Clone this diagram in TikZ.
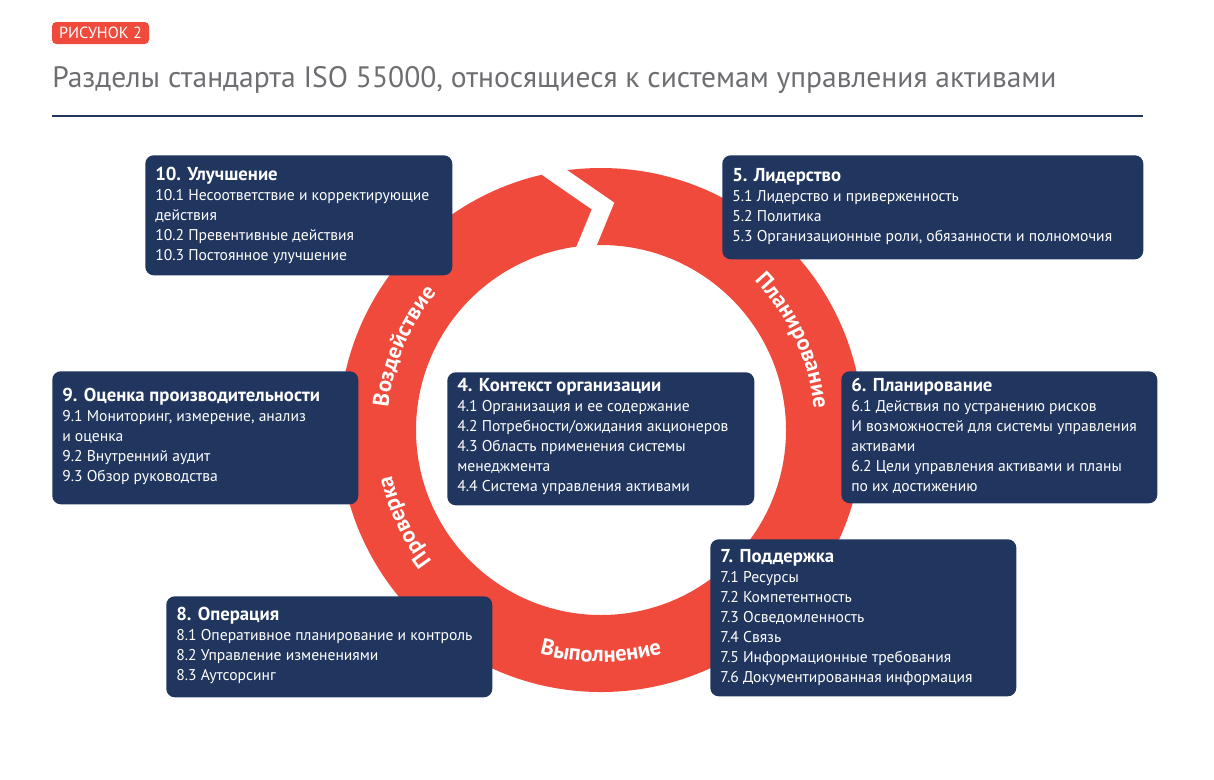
\documentclass[tikz,border=0pt]{standalone}
\usepackage{fontspec}
\setmainfont{PT Sans}
\usetikzlibrary{positioning,decorations.text}
\definecolor{navy}{HTML}{21365F}
\definecolor{ringred}{HTML}{EF4A3C}
\definecolor{titlegray}{HTML}{6D6E71}
\tikzset{
  box/.style={fill=navy, rounded corners=6pt, anchor=north west, inner sep=0pt},
  boxtext/.style={anchor=north west, text=white, align=left, inner sep=0pt,
    font=\fontsize{11.1}{14.2}\selectfont},
  ringlabel/.style={decorate, decoration={text along path, text align=center,
    text color=white, text={|\ringfont|#1}}},
}
\newcommand{\ringfont}{\fontsize{16}{18}\selectfont\bfseries}
\newcommand{\boxhead}[1]{{\fontsize{13.3}{16}\selectfont\bfseries #1}\\[0pt]}
\begin{document}
\begin{tikzpicture}[x=0.025cm, y=-0.025cm]
  \useasboundingbox (0,0) rectangle (1214,779);
  % header
  \node[fill=ringred, rounded corners=3pt, text=white, minimum width=97*0.025cm,
    minimum height=22*0.025cm, inner sep=0pt, font=\fontsize{11.5}{13}\selectfont]
    (badge) at (100.5,33) {РИСУНОК 2};
  \node[anchor=west, text=titlegray, inner sep=0pt, font=\fontsize{21}{24}\selectfont]
    (title) at (52,80) {Разделы стандарта ISO 55000, относящиеся к системам управления активами};
  \coordinate (ruleL) at (52,116);
  \coordinate (ruleR) at (1143,116);
  \draw[navy, line width=2pt] (ruleL) -- (ruleR);
  % ring
  \coordinate (ctr) at (601,430);
  \fill[ringred, even odd rule] (ctr) circle (262) (ctr) circle (185);
  \draw[white, line width=13pt] (522,150) -- (603,206) -- (580,262);
  \begin{scope}[shift={(ctr)}, y=0.025cm]
    \path[ringlabel=Планирование] (52:214) arc[start angle=52, end angle=-2, radius=214];
    \path[ringlabel=Выполнение] (-115:232) arc[start angle=-115, end angle=-65, radius=232];
    \path[ringlabel=Проверка] (-134:214) arc[start angle=-134, end angle=-176, radius=214];
    \path[ringlabel=Воздействие] (-178:214) arc[start angle=-178, end angle=-228, radius=214];
  \end{scope}
  % boxes
  \node[box, minimum width=307*0.025cm, minimum height=120*0.025cm] (b10) at (145,155) {};
  \node[boxtext] (t10) at (155,167) {\boxhead{10. Улучшение}10.1 Несоответствие и корректирующие\\действия\\10.2 Превентивные действия\\10.3 Постоянное улучшение};
  \node[box, minimum width=421*0.025cm, minimum height=104*0.025cm] (b5) at (722,155) {};
  \node[boxtext] (t5) at (732,168) {\boxhead{5. Лидерство}5.1 Лидерство и приверженность\\5.2 Политика\\5.3 Организационные роли, обязанности и полномочия};
  \node[box, minimum width=306*0.025cm, minimum height=133*0.025cm] (b9) at (52,371) {};
  \node[boxtext] (t9) at (62,388) {\boxhead{9. Оценка производительности}9.1 Мониторинг, измерение, анализ\\и оценка\\9.2 Внутренний аудит\\9.3 Обзор руководства};
  \node[box, minimum width=307*0.025cm, minimum height=133*0.025cm] (b4) at (447,372) {};
  \node[boxtext] (t4) at (457,378) {\boxhead{4. Контекст организации}4.1 Организация и ее содержание\\4.2 Потребности/ожидания акционеров\\4.3 Область применения системы\\менеджмента\\4.4 Система управления активами};
  \node[box, minimum width=316*0.025cm, minimum height=132*0.025cm] (b6) at (841,371) {};
  \node[boxtext] (t6) at (851,378) {\boxhead{6. Планирование}6.1 Действия по устранению рисков\\И возможностей для системы управления\\активами\\6.2 Цели управления активами и планы\\по их достижению};
  \node[box, minimum width=306*0.025cm, minimum height=157*0.025cm] (b7) at (710,539) {};
  \node[boxtext] (t7) at (720,549) {\boxhead{7. Поддержка}7.1 Ресурсы\\7.2 Компетентность\\7.3 Осведомленность\\7.4 Связь\\7.5 Информационные требования\\7.6 Документированная информация};
  \node[box, minimum width=326*0.025cm, minimum height=101*0.025cm] (b8) at (166,596) {};
  \node[boxtext] (t8) at (176,607) {\boxhead{8. Операция}8.1 Оперативное планирование и контроль\\8.2 Управление изменениями\\8.3 Аутсорсинг};
\end{tikzpicture}
\end{document}
